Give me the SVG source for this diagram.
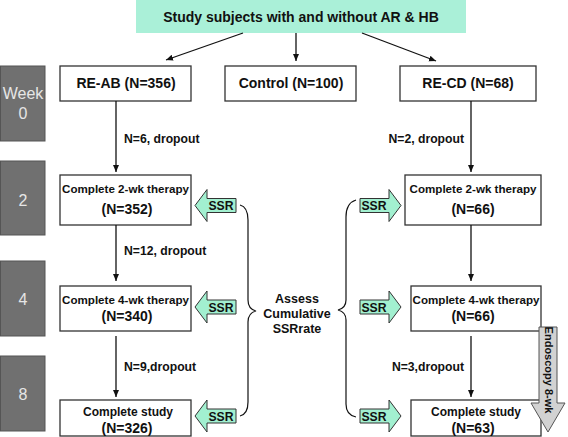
<svg xmlns="http://www.w3.org/2000/svg" width="568" height="437" viewBox="0 0 568 437">
<defs>
<style>
.b{font-family:"Liberation Sans",Arial,sans-serif;font-weight:bold;fill:#111;text-anchor:middle}
.box{fill:#fff;stroke:#333;stroke-width:1.3}
.wk{fill:#707070;stroke:#555;stroke-width:1}
.wt{font-family:"Liberation Sans",Arial,sans-serif;font-size:16px;fill:#e6e6e6;text-anchor:middle}
.ln{stroke:#111;stroke-width:1.3;fill:none}
.ssr{fill:#a2f0d0;stroke:#333;stroke-width:1}
.br{stroke:#111;stroke-width:1.2;fill:none}
</style>
<marker id="ah" markerWidth="8" markerHeight="8" refX="7" refY="4" orient="auto" markerUnits="userSpaceOnUse">
<path d="M0,1 L7,4 L0,7 Z" fill="#111"/>
</marker>
<path id="ssrL" d="M0,0 L12,-16 L12,-7 L41,-7 L41,7 L12,7 L12,16 Z"/>
<path id="ssrR" d="M0,0 L-12,-16 L-12,-7 L-41,-7 L-41,7 L-12,7 L-12,16 Z"/>
</defs>

<g id="title">
<rect x="136" y="0" width="330" height="33" fill="#aaf0d8"/>
<text class="b" x="301" y="22" font-size="14">Study subjects with and without AR &amp; HB</text>
</g>

<g id="weeks">
<rect class="wk" x="0.5" y="66" width="44.5" height="75"/>
<text class="wt" x="23" y="99">Week</text>
<text class="wt" x="23" y="119">0</text>
<rect class="wk" x="0.5" y="161" width="44.5" height="74"/>
<text class="wt" x="23" y="206">2</text>
<rect class="wk" x="0.5" y="261" width="44.5" height="75"/>
<text class="wt" x="23" y="305">4</text>
<rect class="wk" x="0.5" y="356" width="44.5" height="75"/>
<text class="wt" x="23" y="400">8</text>
</g>

<g id="reab">
<rect class="box" x="60" y="66" width="131" height="35"/>
<text class="b" x="126" y="88" font-size="14">RE-AB (N=356)</text>
</g>
<g id="control">
<rect class="box" x="225" y="66" width="131" height="35"/>
<text class="b" x="291" y="88" font-size="14">Control (N=100)</text>
</g>
<g id="recd">
<rect class="box" x="400" y="66" width="136" height="35"/>
<text class="b" x="468" y="88" font-size="14">RE-CD (N=68)</text>
</g>

<g id="ab2">
<rect class="box" x="60" y="175" width="131" height="50"/>
<text class="b" x="125.5" y="193" font-size="11.6">Complete 2-wk therapy</text>
<text class="b" x="127" y="214" font-size="14">(N=352)</text>
</g>
<g id="ab4">
<rect class="box" x="60" y="286" width="131" height="45"/>
<text class="b" x="125.5" y="304" font-size="11.6">Complete 4-wk therapy</text>
<text class="b" x="127" y="321" font-size="14">(N=340)</text>
</g>
<g id="abend">
<rect class="box" x="60" y="400" width="131" height="36"/>
<text class="b" x="128" y="416" font-size="12">Complete study</text>
<text class="b" x="127" y="433" font-size="14">(N=326)</text>
</g>

<g id="cd2">
<rect class="box" x="405" y="175" width="136" height="50"/>
<text class="b" x="473" y="193" font-size="11.6">Complete 2-wk therapy</text>
<text class="b" x="473" y="214" font-size="14">(N=66)</text>
</g>
<g id="cd4">
<rect class="box" x="411" y="286" width="130" height="45"/>
<text class="b" x="476" y="304" font-size="11.6">Complete 4-wk therapy</text>
<text class="b" x="473" y="321" font-size="14">(N=66)</text>
</g>
<g id="cdend">
<rect class="box" x="411" y="400" width="130" height="36"/>
<text class="b" x="476" y="416" font-size="12">Complete study</text>
<text class="b" x="473" y="433" font-size="14">(N=63)</text>
</g>

<g id="connectors">
<line class="ln" x1="243" y1="33" x2="166" y2="60" marker-end="url(#ah)"/>
<line class="ln" x1="296" y1="33" x2="296" y2="61" marker-end="url(#ah)"/>
<line class="ln" x1="362" y1="33" x2="436" y2="61" marker-end="url(#ah)"/>
<line class="ln" x1="116" y1="101" x2="116" y2="172" marker-end="url(#ah)"/>
<line class="ln" x1="116" y1="225" x2="116" y2="281" marker-end="url(#ah)"/>
<line class="ln" x1="116" y1="336" x2="116" y2="397" marker-end="url(#ah)"/>
<line class="ln" x1="471" y1="101" x2="471" y2="172" marker-end="url(#ah)"/>
<line class="ln" x1="471" y1="225" x2="471" y2="281" marker-end="url(#ah)"/>
<line class="ln" x1="471" y1="336" x2="471" y2="397" marker-end="url(#ah)"/>
<text class="b" x="124" y="143" font-size="12.2" text-anchor="start" style="text-anchor:start">N=6, dropout</text>
<text class="b" x="124" y="255" font-size="12.2" style="text-anchor:start">N=12, dropout</text>
<text class="b" x="124" y="371" font-size="12.2" style="text-anchor:start">N=9,dropout</text>
<text class="b" x="464" y="143" font-size="12.2" style="text-anchor:end">N=2, dropout</text>
<text class="b" x="464" y="371" font-size="12.2" style="text-anchor:end">N=3,dropout</text>
<path class="br" d="M240,205 Q248,207 248,220 L248,300 Q248,309 256,311 Q248,313 248,322 L248,402 Q248,414 240,416"/>
<path class="br" d="M356,200 Q346,203 346,217 L346,300 Q346,308 338,310 Q346,312 346,320 L346,404 Q346,415 356,417"/>
</g>

<g id="ssr-left">
<use href="#ssrL" class="ssr" transform="translate(195,205.5)"/>
<text class="b" x="221" y="210" font-size="12.2">SSR</text>
<use href="#ssrL" class="ssr" transform="translate(195,307)"/>
<text class="b" x="221" y="311.5" font-size="12.2">SSR</text>
<use href="#ssrL" class="ssr" transform="translate(195,416)"/>
<text class="b" x="221" y="420.5" font-size="12.2">SSR</text>
</g>
<g id="ssr-right">
<use href="#ssrR" class="ssr" transform="translate(401,205.5)"/>
<text class="b" x="374" y="210" font-size="12.2">SSR</text>
<use href="#ssrR" class="ssr" transform="translate(401,307)"/>
<text class="b" x="374" y="311.5" font-size="12.2">SSR</text>
<use href="#ssrR" class="ssr" transform="translate(401,416)"/>
<text class="b" x="374" y="420.5" font-size="12.2">SSR</text>
</g>

<g id="assess">
<text class="b" x="297" y="303" font-size="12.5">Assess</text>
<text class="b" x="297" y="318" font-size="12.5">Cumulative</text>
<text class="b" x="297" y="333" font-size="12.5">SSRrate</text>
</g>

<g id="endoscopy">
<polygon points="539,327 557,327 557,403 565,403 548,432 531,403 539,403" fill="#d2d2d2" stroke="#555" stroke-width="1"/>
<text class="b" font-size="11" transform="translate(544.5,370) rotate(90)">Endoscopy 8-wk</text>
</g>
</svg>
